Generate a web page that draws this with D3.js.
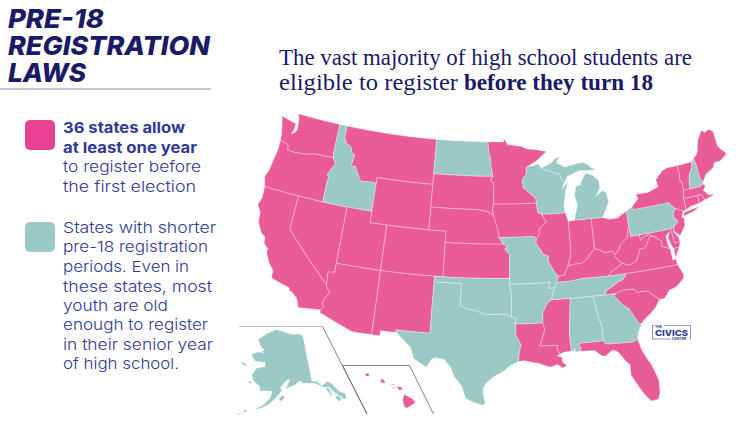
<!DOCTYPE html>
<html><head><meta charset="utf-8">
<script src="https://cdn.jsdelivr.net/npm/d3@7"></script>
<style>html,body{margin:0;padding:0;background:#fff}svg{display:block}</style>
</head><body><svg id="c" width="749" height="434"></svg>
<script>
// Categories
const shorterPeriodStates = ["ID","ND","WI","MI","PA","NH","MO","AR","OK","TX","TN","AL","GA","AK"];
const oneYearStates = ["WA","OR","CA","NV","MT","WY","UT","CO","AZ","NM","SD","NE","KS","MN","IA","LA","MS","IL","IN","OH","KY","WV","VA","NC","SC","FL","NY","NJ","DE","MD","VT","ME","MA","RI","CT","HI"];
// Text
const titleLines = ["PRE-18","REGISTRATION","LAWS"];
const headLine1 = "The vast majority of high school students are";
const headLine2a = "eligible to register";
const headLine2b = "before they turn 18";
const legendBold = ["36 states allow","at least one year"];
const legendA = ["to register before","the first election"];
const legendB = ["States with shorter","pre-18 registration","periods. Even in","these states, most","youth are old","enough to register","in their senior year","of high school."];
// Outlines (lon, lat)
const WA=[[[-124.7,48.4],[-124.4,47.7],[-124.1,46.9],[-124,46.3],[-123.4,46.2],[-122.9,46.1],[-122.8,45.7],[-122.2,45.6],[-121.2,45.65],[-120.5,45.7],[-119.6,45.9],[-119,45.95],[-116.92,46],[-117.04,46.4],[-117.04,49],[-122.75,49],[-122.5,48.7],[-122.4,48.2],[-122.3,47.6],[-122.5,47.3],[-122.9,47.1],[-122.7,47.6],[-122.7,48.1],[-123.2,48.15]]];
const OR=[[[-124,46.3],[-123.95,45.5],[-124.1,44.6],[-124.25,43.5],[-124.55,42.85],[-124.2,42],[-120,42],[-117.03,42],[-117.03,43.8],[-116.95,44.2],[-117.2,44.45],[-116.85,45],[-116.5,45.5],[-116.92,46],[-119,45.95],[-119.6,45.9],[-120.5,45.7],[-121.2,45.65],[-122.2,45.6],[-122.8,45.7],[-122.9,46.1],[-123.4,46.2]]];
const CA=[[[-124.2,42],[-120,42],[-120,39],[-114.63,35],[-114.6,34.85],[-114.15,34.3],[-114.45,34],[-114.72,33.4],[-114.5,33],[-114.72,32.72],[-117.12,32.53],[-117.25,32.85],[-117.45,33.25],[-118.1,33.72],[-118.4,33.75],[-118.5,34.03],[-119.2,34.15],[-120.45,34.45],[-120.65,34.6],[-120.65,35.15],[-121.3,35.7],[-121.9,36.6],[-121.8,36.85],[-122.4,37.2],[-122.5,37.8],[-123,38],[-123.7,38.9],[-123.8,39.7],[-124.35,40.3],[-124.1,41]]];
const NV=[[[-120,42],[-117.03,42],[-114.04,42],[-114.04,37],[-114.04,36.2],[-114.75,36.1],[-114.63,35],[-120,39]]];
const ID=[[[-117.04,49],[-116.05,49],[-116.05,48],[-115.7,47.5],[-115,47.25],[-114.7,46.7],[-114.35,46.65],[-114.5,45.6],[-114,45.65],[-113.45,44.95],[-113,44.45],[-111.5,44.55],[-111.05,44.48],[-111.05,42],[-114.04,42],[-117.03,42],[-117.03,43.8],[-116.95,44.2],[-117.2,44.45],[-116.85,45],[-116.5,45.5],[-116.92,46],[-117.04,46.4]]];
const MT=[[[-116.05,49],[-104.05,49],[-104.05,45.94],[-104.05,45],[-111.05,45],[-111.05,44.48],[-111.5,44.55],[-113,44.45],[-113.45,44.95],[-114,45.65],[-114.5,45.6],[-114.35,46.65],[-114.7,46.7],[-115,47.25],[-115.7,47.5],[-116.05,48]]];
const WY=[[[-111.05,45],[-104.05,45],[-104.05,43],[-104.05,41],[-109.05,41],[-111.05,41],[-111.05,42],[-111.05,44.48]]];
const UT=[[[-114.04,42],[-111.05,42],[-111.05,41],[-109.05,41],[-109.05,37],[-114.04,37]]];
const CO=[[[-109.05,41],[-104.05,41],[-102.05,41],[-102.05,40],[-102.05,37],[-103,37],[-109.05,37]]];
const AZ=[[[-114.04,37],[-109.05,37],[-109.05,31.33],[-111.07,31.33],[-114.8,32.5],[-114.72,32.72],[-114.5,33],[-114.72,33.4],[-114.45,34],[-114.15,34.3],[-114.6,34.85],[-114.63,35],[-114.75,36.1],[-114.04,36.2]]];
const NM=[[[-109.05,37],[-103,37],[-103,36.5],[-103.04,32],[-106.62,32],[-106.53,31.78],[-108.2,31.78],[-108.2,31.33],[-109.05,31.33]]];
const ND=[[[-104.05,49],[-97.23,49],[-97.1,48],[-96.85,47.5],[-96.8,46.9],[-96.56,45.94],[-104.05,45.94]]];
const SD=[[[-104.05,45.94],[-96.56,45.94],[-96.85,45.6],[-96.45,45.3],[-96.45,43.5],[-96.6,43.1],[-96.45,42.5],[-97.2,42.85],[-98.5,43],[-104.05,43],[-104.05,45]]];
const NE=[[[-104.05,43],[-98.5,43],[-97.2,42.85],[-96.45,42.5],[-96.1,41.7],[-95.9,41.2],[-95.85,40.7],[-95.77,40.58],[-95.3,40],[-102.05,40],[-102.05,41],[-104.05,41]]];
const KS=[[[-102.05,40],[-95.3,40],[-94.9,39.8],[-95.1,39.5],[-94.6,39.1],[-94.62,37],[-102.05,37]]];
const OK=[[[-103,37],[-102.05,37],[-94.62,37],[-94.62,36.5],[-94.43,35.4],[-94.48,33.64],[-95.2,33.9],[-96,33.85],[-96.6,33.85],[-97.2,33.8],[-97.7,33.95],[-98.1,34.1],[-99.2,34.3],[-100,34.56],[-100,36.5],[-103,36.5]]];
const TX=[[[-103,36.5],[-100,36.5],[-100,34.56],[-99.2,34.3],[-98.1,34.1],[-97.7,33.95],[-97.2,33.8],[-96.6,33.85],[-96,33.85],[-95.2,33.9],[-94.48,33.64],[-94.04,33.55],[-94.04,33],[-94.04,32],[-93.55,31.2],[-93.75,30.4],[-93.85,29.7],[-94.7,29.35],[-95.2,28.95],[-96.4,28.35],[-97.1,27.8],[-97.4,27.3],[-97.35,26.7],[-97.15,25.96],[-97.5,25.85],[-98.2,26.05],[-99.1,26.4],[-99.5,27.5],[-100.3,28.3],[-100.7,29.1],[-101.4,29.77],[-102.3,29.88],[-102.7,29.7],[-103.15,28.98],[-104.5,29.65],[-104.9,30.6],[-106,31.4],[-106.53,31.78],[-106.62,32],[-103.04,32]]];
const MN=[[[-97.23,49],[-95.15,49],[-95.15,49.38],[-94.65,48.75],[-93,48.6],[-92,48.3],[-90.8,48.2],[-89.6,48],[-90.8,47.3],[-92.1,46.75],[-92.3,46.66],[-92.3,46.1],[-92.85,45.6],[-92.75,44.9],[-91.95,44.4],[-91.25,43.85],[-91.22,43.5],[-96.45,43.5],[-96.45,45.3],[-96.85,45.6],[-96.56,45.94],[-96.8,46.9],[-96.85,47.5],[-97.1,48]]];
const IA=[[[-96.45,43.5],[-91.22,43.5],[-91.1,42.7],[-90.65,42.5],[-90.15,41.8],[-91.05,41.2],[-91.1,40.7],[-91.42,40.38],[-91.75,40.6],[-95.77,40.58],[-95.85,40.7],[-95.9,41.2],[-96.1,41.7],[-96.45,42.5],[-96.6,43.1]]];
const MO=[[[-95.77,40.58],[-91.75,40.6],[-91.42,40.38],[-91.5,40],[-91,39.4],[-90.7,39],[-90.15,38.8],[-90.2,38.4],[-89.9,37.9],[-89.5,37.3],[-89.15,37],[-89.4,36.5],[-89.7,36],[-90.37,36],[-90.15,36.5],[-94.62,36.5],[-94.62,37],[-94.6,39.1],[-95.1,39.5],[-94.9,39.8],[-95.3,40]]];
const AR=[[[-94.62,36.5],[-90.15,36.5],[-90.37,36],[-89.7,36],[-90.1,35],[-90.6,34.7],[-91.1,33.9],[-91.17,33],[-94.04,33],[-94.04,33.55],[-94.48,33.64],[-94.43,35.4]]];
const LA=[[[-94.04,33],[-91.17,33],[-91,32.4],[-91.6,31],[-89.73,31],[-89.85,30.65],[-89.55,30.2],[-89.9,30.05],[-89.4,29.9],[-89.4,29.5],[-89,29.15],[-89.4,28.95],[-89.9,29.3],[-90.6,29.1],[-91.3,29.3],[-91.8,29.5],[-92.3,29.55],[-93.2,29.77],[-93.85,29.7],[-93.75,30.4],[-93.55,31.2],[-94.04,32]]];
const MS=[[[-90.1,35],[-88.2,35],[-88.1,34.9],[-88.47,31.9],[-88.4,30.4],[-89.1,30.35],[-89.55,30.2],[-89.85,30.65],[-89.73,31],[-91.6,31],[-91,32.4],[-91.17,33],[-91.1,33.9],[-90.6,34.7]]];
const AL=[[[-88.2,35],[-85.6,35],[-85.2,32.9],[-85,32.3],[-85.05,31.55],[-85,31],[-87.6,31],[-87.4,30.65],[-87.5,30.3],[-88,30.25],[-88.05,30.65],[-88.15,30.35],[-88.4,30.4],[-88.47,31.9],[-88.1,34.9]]];
const GA=[[[-85.6,35],[-84.32,35],[-83.1,35],[-83.35,34.7],[-83,34.5],[-82.6,34],[-81.9,33.5],[-81.4,32.6],[-81.1,32.1],[-80.85,32.03],[-81.2,31.5],[-81.45,31],[-81.5,30.72],[-82.05,30.55],[-82.2,30.57],[-84.86,30.7],[-85,31],[-85.05,31.55],[-85,32.3],[-85.2,32.9]]];
const FL=[[[-87.6,31],[-85,31],[-84.86,30.7],[-82.2,30.57],[-82.05,30.55],[-81.5,30.72],[-81.3,29.9],[-80.9,29],[-80.5,28.3],[-80.05,26.9],[-80.15,25.75],[-80.4,25.2],[-81.1,25.15],[-81.7,25.9],[-82.15,26.7],[-82.7,27.7],[-82.65,28.6],[-83.1,29.1],[-83.7,29.9],[-84.2,30.1],[-85,29.65],[-85.35,29.7],[-86,30.25],[-87.5,30.3],[-87.4,30.65]]];
const SC=[[[-83.1,35],[-82.3,35.2],[-81.05,35.15],[-80.8,34.82],[-79.67,34.8],[-78.55,33.86],[-79.15,33.2],[-79.9,32.7],[-80.65,32.25],[-80.85,32.03],[-81.1,32.1],[-81.4,32.6],[-81.9,33.5],[-82.6,34],[-83,34.5],[-83.35,34.7]]];
const NC=[[[-84.32,35],[-83.1,35],[-82.3,35.2],[-81.05,35.15],[-80.8,34.82],[-79.67,34.8],[-78.55,33.86],[-77.95,33.9],[-77.3,34.5],[-76.55,34.65],[-75.55,35.25],[-75.45,35.6],[-75.87,36.55],[-81.68,36.59],[-82.1,36.1],[-82.6,36],[-83.2,35.7],[-84,35.4]]];
const TN=[[[-90.1,35],[-88.2,35],[-85.6,35],[-84.32,35],[-84,35.4],[-83.2,35.7],[-82.6,36],[-82.1,36.1],[-81.68,36.59],[-83.68,36.6],[-86.5,36.65],[-88.07,36.5],[-89.4,36.5],[-89.7,36]]];
const KY=[[[-89.4,36.5],[-88.07,36.5],[-86.5,36.65],[-83.68,36.6],[-83.1,37],[-82.3,37.3],[-81.97,37.54],[-82.6,38.17],[-82.6,38.4],[-82.85,38.7],[-83.7,38.65],[-84.25,38.95],[-84.82,39.1],[-85.4,38.7],[-85.8,38.27],[-86.5,37.95],[-87.5,37.95],[-88.05,37.8],[-88.5,37.1],[-89.15,37]]];
const IL=[[[-90.65,42.5],[-87.8,42.5],[-87.53,41.7],[-87.53,39.35],[-87.6,38.7],[-88.05,37.8],[-88.5,37.1],[-89.15,37],[-89.5,37.3],[-89.9,37.9],[-90.2,38.4],[-90.15,38.8],[-90.7,39],[-91,39.4],[-91.5,40],[-91.42,40.38],[-91.1,40.7],[-91.05,41.2],[-90.15,41.8]]];
const IN=[[[-87.53,41.7],[-87.2,41.75],[-86.8,41.76],[-84.8,41.76],[-84.82,39.1],[-85.4,38.7],[-85.8,38.27],[-86.5,37.95],[-87.5,37.95],[-88.05,37.8],[-87.6,38.7],[-87.53,39.35]]];
const OH=[[[-84.8,41.76],[-83.45,41.73],[-82.7,41.5],[-81.7,41.5],[-80.52,41.98],[-80.52,40.64],[-80.65,40.5],[-80.85,39.7],[-81.75,39.2],[-82.2,38.6],[-82.6,38.4],[-82.85,38.7],[-83.7,38.65],[-84.25,38.95],[-84.82,39.1]]];
const MI=[[[-86.8,41.76],[-84.8,41.76],[-83.45,41.73],[-83.15,42.05],[-82.9,42.4],[-82.45,43],[-82.6,43.85],[-83,44.05],[-83.4,43.9],[-83.9,43.65],[-83.3,44.3],[-83.3,45],[-84,45.5],[-84.75,45.78],[-85,45.6],[-85.55,45],[-85.6,44.8],[-86.2,44.7],[-86.5,43.95],[-86.25,43.05],[-86.6,42.3]],[[-90.4,46.55],[-89.1,46.95],[-88.4,47.35],[-87.9,47.45],[-88.4,46.95],[-87.4,46.5],[-86.2,46.65],[-85,46.75],[-84.4,46.5],[-84.1,46.2],[-83.5,46],[-83.9,45.95],[-84.7,46],[-85.5,46.05],[-86.3,45.9],[-86.7,45.75],[-87.1,45.7],[-87.6,45.1],[-87.85,45.35],[-88.1,45.9],[-89.1,46.15]]];
const WI=[[[-92.1,46.75],[-91.2,46.85],[-90.75,46.95],[-90.4,46.55],[-89.1,46.15],[-88.1,45.9],[-87.85,45.35],[-87.6,45.1],[-88,44.55],[-87.1,45.25],[-87.5,44.5],[-87.75,43.7],[-87.9,43],[-87.8,42.5],[-90.65,42.5],[-91.1,42.7],[-91.22,43.5],[-91.25,43.85],[-91.95,44.4],[-92.75,44.9],[-92.85,45.6],[-92.3,46.1],[-92.3,46.66]]];
const PA=[[[-80.52,41.98],[-79.76,42.27],[-79.76,42],[-75.35,42],[-75.05,41.6],[-74.7,41.36],[-75.1,41],[-75.15,40.7],[-74.75,40.2],[-75.4,39.8],[-75.8,39.72],[-79.48,39.72],[-80.52,39.72],[-80.52,40.64]]];
const NY=[[[-79.76,42.27],[-78.9,42.85],[-79.05,43.27],[-77.5,43.25],[-76.2,43.55],[-76.3,44.2],[-75.3,44.85],[-74.7,45],[-73.35,45],[-73.3,44.2],[-73.45,43.6],[-73.25,43.55],[-73.27,42.75],[-73.5,42.05],[-73.5,41.3],[-73.65,41],[-73.9,41],[-74.7,41.36],[-75.05,41.6],[-75.35,42],[-79.76,42]],[[-74,40.7],[-73.7,40.87],[-72.5,41],[-71.9,41.07],[-72.7,40.75],[-73.9,40.57]]];
const NJ=[[[-74.7,41.36],[-73.9,41],[-74.25,40.5],[-74,40.4],[-74.1,39.75],[-74.9,38.95],[-75.5,39.5],[-75.4,39.8],[-74.75,40.2],[-75.15,40.7],[-75.1,41]]];
const DE=[[[-75.8,39.72],[-75.4,39.8],[-75.55,39.45],[-75.1,38.8],[-75.05,38.45],[-75.7,38.45]]];
const MD=[[[-79.48,39.72],[-75.8,39.72],[-75.7,38.45],[-75.05,38.45],[-75.25,38.03],[-75.9,37.95],[-76.1,38.3],[-76.3,39],[-76,39.5],[-76.5,39.2],[-76.5,38.5],[-76.35,38.05],[-77,38.3],[-77.25,38.4],[-77.05,38.8],[-77.5,39.1],[-77.75,39.3],[-78.4,39.6],[-79.05,39.47],[-79.48,39.2]]];
const WV=[[[-80.52,40.64],[-80.52,39.72],[-79.48,39.72],[-79.48,39.2],[-79.05,39.47],[-78.4,39.6],[-77.75,39.3],[-78.35,39.4],[-78.85,38.75],[-79.3,38.42],[-79.65,38.55],[-80.3,37.5],[-81.2,37.25],[-81.97,37.54],[-82.6,38.17],[-82.6,38.4],[-82.2,38.6],[-81.75,39.2],[-80.85,39.7],[-80.65,40.5]]];
const VA=[[[-83.68,36.6],[-81.68,36.59],[-75.87,36.55],[-75.95,37.1],[-76.3,37],[-76.3,37.9],[-76.35,38.05],[-77,38.3],[-77.25,38.4],[-77.05,38.8],[-77.5,39.1],[-77.75,39.3],[-78.35,39.4],[-78.85,38.75],[-79.3,38.42],[-79.65,38.55],[-80.3,37.5],[-81.2,37.25],[-81.97,37.54],[-82.3,37.3],[-83.1,37]],[[-75.25,38.03],[-75.9,37.95],[-75.95,37.15],[-75.6,37.6]]];
const VT=[[[-73.35,45],[-71.5,45.01],[-71.6,44.5],[-72.05,44.1],[-72.3,43.6],[-72.45,43],[-72.46,42.73],[-73.27,42.75],[-73.25,43.55],[-73.45,43.6],[-73.3,44.2]]];
const NH=[[[-71.5,45.01],[-71.1,45.3],[-71,44.5],[-70.98,43.4],[-70.7,43.07],[-70.82,42.87],[-71.3,42.7],[-72.46,42.73],[-72.45,43],[-72.3,43.6],[-72.05,44.1],[-71.6,44.5]]];
const ME=[[[-71.1,45.3],[-70.8,45.4],[-70.4,45.8],[-70.25,46.2],[-70,46.7],[-69.23,47.46],[-68.9,47.2],[-68.3,47.35],[-67.8,47.07],[-67.8,45.7],[-67.45,45.3],[-67,44.85],[-68,44.4],[-68.8,44.4],[-69.1,44],[-69.8,43.75],[-70.2,43.6],[-70.7,43.07],[-70.98,43.4],[-71,44.5]]];
const MA=[[[-73.27,42.75],[-72.46,42.73],[-71.3,42.7],[-70.82,42.87],[-70.6,42.65],[-71,42.3],[-70.65,41.98],[-70.55,41.8],[-70.05,41.78],[-70.2,42.07],[-69.95,41.7],[-70.65,41.55],[-71.1,41.5],[-71.2,41.7],[-71.38,42.02],[-71.8,42.02],[-73.5,42.05]]];
const RI=[[[-71.8,42.02],[-71.38,42.02],[-71.2,41.7],[-71.1,41.5],[-71.85,41.32]]];
const CT=[[[-73.5,42.05],[-71.8,42.02],[-71.85,41.32],[-72.9,41.25],[-73.65,41],[-73.5,41.3]]];
const AK=[[[-141,69.65],[-143,70.1],[-147,70.2],[-152,70.85],[-156.6,71.35],[-159,70.85],[-162,70.3],[-166.2,68.9],[-164.3,67.6],[-162,66.9],[-163.7,66.6],[-161.9,66.3],[-165,66.45],[-168.1,65.65],[-166.3,64.6],[-165,64.45],[-161.2,64.5],[-160.9,63.6],[-162,63.5],[-164.6,63.1],[-166.1,61.6],[-165.2,60.6],[-163,59.9],[-162,59.3],[-162,58.65],[-160,58.8],[-157.2,58.8],[-157.6,57.6],[-160,56],[-163,54.9],[-164.8,54.6],[-161,55.2],[-158.5,56],[-156.5,57],[-154.5,58.2],[-153.3,59],[-154,59.6],[-152.4,60.5],[-151.3,61],[-150,61.2],[-151.8,59.3],[-150,59.7],[-148,60],[-146,60.7],[-144.5,60.1],[-141.5,59.9],[-139.5,59.6],[-137.5,58.7],[-136.2,58.35],[-135.2,58.4],[-133.9,57.4],[-133,56.5],[-132,55.8],[-131.3,55.1],[-130.2,55],[-130,56],[-132,57],[-133.5,58.7],[-135,59.5],[-137.5,59],[-139,60],[-141,60.3]],
[[-136.4,58.2],[-135.2,58.2],[-134.9,57.4],[-135.8,57.3]],[[-135.8,57.2],[-134.9,57.3],[-134.7,56.3],[-135.2,56.6]],[[-134.6,58],[-133.9,57.8],[-134.3,57.1],[-134.6,57.3]],[[-133.7,56.9],[-132.8,56.9],[-132.5,56.3],[-133.3,56.4]],[[-133.9,56.1],[-132.6,56.1],[-131.9,55.3],[-133,54.9],[-133.5,55.4]],
[[-154.6,57.4],[-153.2,58.1],[-152.2,57.6],[-153.6,56.8]],[[-167,60.3],[-165.6,60.3],[-165.7,59.85],[-167,60]],[[-171.7,63.75],[-168.8,63.3],[-170.3,63.15],[-171.7,63.4]],[[-166.5,54],[-165.2,54.2],[-165.8,54.5],[-167,54.2]],[[-168.9,53.3],[-167.5,53.6],[-166.5,53.95],[-167.8,53.3]]];
const HI=[[[-155.9,20.25],[-155.1,19.85],[-154.8,19.5],[-155.6,19],[-155.9,19.1],[-156.05,19.75]],[[-156.7,20.95],[-156.25,20.95],[-156,20.75],[-156.4,20.6],[-156.5,20.8]],[[-158.25,21.55],[-158,21.7],[-157.7,21.3],[-158.1,21.3]],[[-159.75,22.1],[-159.4,22.23],[-159.3,21.95],[-159.6,21.9]],[[-157.3,21.2],[-156.75,21.17],[-157,21.08]],[[-157.05,20.9],[-156.85,20.9],[-156.9,20.75]]];
const shapes={WA,OR,CA,NV,ID,MT,WY,UT,CO,AZ,NM,ND,SD,NE,KS,OK,TX,MN,IA,MO,AR,LA,MS,AL,GA,FL,SC,NC,TN,KY,IL,IN,OH,MI,WI,PA,NY,NJ,DE,MD,WV,VA,VT,NH,ME,MA,RI,CT,AK,HI};

const colors={one:"#E95C96",oneKey:"#E84392",short:"#9BCAC6",head:"#1B1A69",legend:"#30399A"};
const svg=d3.select("#c");
const fitText=(sel,len)=>sel.attr("textLength",len).attr("lengthAdjust","spacingAndGlyphs");

// Projections
const lower=d3.geoConicEqualArea().parallels([29.5,45.5]).rotate([96,0]).center([-.6,38.7]).scale(650).translate([492,259]);
const alaska=d3.geoConicEqualArea().rotate([154,0]).center([-2,58.5]).parallels([55,65]).scale(285).translate([275,393]);
const hawaii=d3.geoConicEqualArea().rotate([157,0]).center([-3,19.9]).parallels([8,18]).scale(625).translate([362,398]);
const pathFor=s=>d3.geoPath(s==="AK"?alaska:s==="HI"?hawaii:lower);

// planar subdivision so parallels stay parallels
function densify(ring){const out=[];ring.forEach((p,i)=>{const q=ring[(i+1)%ring.length];
  const n=Math.max(1,Math.ceil(Math.max(Math.abs(q[0]-p[0]),Math.abs(q[1]-p[1]))/0.5));
  for(let k=0;k<n;k++)out.push([p[0]+(q[0]-p[0])*k/n,p[1]+(q[1]-p[1])*k/n]);});
  out.push(out[0].slice());
  if(d3.geoArea({type:"Polygon",coordinates:[out]})>2*Math.PI)out.reverse();
  return out;}
const features=Object.entries(shapes).map(([id,rings])=>({type:"Feature",id,geometry:{type:"MultiPolygon",coordinates:rings.map(r=>[densify(r)])}}));

svg.append("g").selectAll("path").data(features).join("path")
  .attr("d",d=>pathFor(d.id)(d))
  .attr("fill",d=>shorterPeriodStates.includes(d.id)?colors.short:colors.one)
  .attr("stroke","#fff").attr("stroke-opacity",.65).attr("stroke-width",.5).attr("stroke-linejoin","round");

// Inset frames
const frames=[[[239,326.5],[322.5,326.5],[367,414]],[[367,414],[342.5,365.5],[409.5,365.5],[433.5,414]]];
const ln=d3.line();
svg.append("path").attr("d",ln(frames[0].slice(0,2))).attr("stroke","#bdbdbd").attr("stroke-width",1).attr("fill","none");
svg.append("path").attr("d",ln(frames[0].slice(1))).attr("stroke","#666").attr("stroke-width",.8).attr("fill","none");
svg.append("path").attr("d",ln(frames[1])).attr("stroke","#666").attr("stroke-width",.8).attr("fill","none");

// Title
const titleWidths=[96,202,78];
const tt=svg.append("text").attr("font-family","Inter,Roboto,sans-serif").attr("font-weight",800).attr("font-style","italic").attr("font-size",26).attr("fill",colors.head);
titleLines.forEach((t,i)=>{fitText(tt.append("tspan").attr("x",8).attr("y",28+27*i).text(t),titleWidths[i]);});
svg.append("line").attr("x1",0).attr("x2",211).attr("y1",89).attr("y2",89).attr("stroke","#8886AE").attr("stroke-width",1);

// Headline
const hf="'Liberation Serif',serif";
fitText(svg.append("text").attr("x",279).attr("y",65).attr("font-family",hf).attr("font-size",23).attr("fill",colors.head).text(headLine1),413);
fitText(svg.append("text").attr("x",279).attr("y",90).attr("font-family",hf).attr("font-size",23).attr("fill",colors.head).text(headLine2a),179);
fitText(svg.append("text").attr("x",464).attr("y",90).attr("font-family",hf).attr("font-size",23).attr("font-weight",700).attr("fill",colors.head).text(headLine2b),189);

// Legend
svg.append("rect").attr("x",25).attr("y",120).attr("width",30).attr("height",30).attr("rx",5).attr("fill",colors.oneKey);
svg.append("rect").attr("x",25).attr("y",222).attr("width",30).attr("height",30).attr("rx",5).attr("fill",colors.short);
const lf="Inter,'Open Sans',sans-serif";
const legendRows=[[legendBold[0],133,122,700],[legendBold[1],152.5,134,700],[legendA[0],172,138,300],[legendA[1],192,133,300],
 [legendB[0],233,153,300],[legendB[1],252,145,300],[legendB[2],272,126,300],[legendB[3],292,149,300],[legendB[4],311,105,300],[legendB[5],330,145,300],[legendB[6],350,150,300],[legendB[7],369,116,300]];
legendRows.forEach(r=>fitText(svg.append("text").attr("x",63).attr("y",r[1]).attr("font-family",lf).attr("font-size",15).attr("font-weight",r[3]).attr("fill",colors.legend).text(r[0]),r[2]));

// Logo
const logo=svg.append("g");
logo.append("rect").attr("x",652.5).attr("y",325.5).attr("width",38).attr("height",13.5).attr("fill","#fff").attr("stroke","#5E68B5").attr("stroke-width",.7);
logo.append("rect").attr("x",654).attr("y",323).attr("width",10).attr("height",5).attr("fill","#fff");
logo.append("rect").attr("x",671).attr("y",336.5).attr("width",18).attr("height",5).attr("fill","#fff");
logo.append("text").attr("x",655).attr("y",327.5).attr("font-family",lf).attr("font-size",3.5).attr("font-weight",700).attr("fill",colors.legend).text("THE");
fitText(logo.append("text").attr("x",655).attr("y",336).attr("font-family",lf).attr("font-size",8).attr("font-weight",800).attr("fill",colors.legend).text("CIVICS"),33);
logo.append("text").attr("x",672).attr("y",340).attr("font-family",lf).attr("font-size",3.5).attr("font-weight",700).attr("fill",colors.legend).text("CENTER");
</script></body></html>
